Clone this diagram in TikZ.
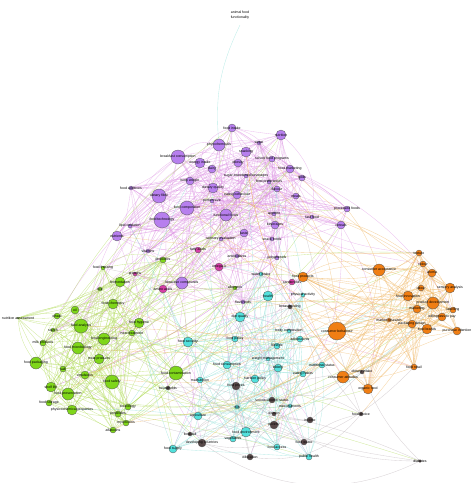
\documentclass[tikz,border=0pt]{standalone}
\usepackage{fontspec}
\setmainfont{Liberation Sans}
\pgfdeclarelayer{bg}
\pgfsetlayers{bg,main}
\definecolor{cP}{HTML}{B77FEE}
\definecolor{cM}{HTML}{D63FA7}
\definecolor{cG}{HTML}{7FD61A}
\definecolor{cC}{HTML}{52E0DC}
\definecolor{cD}{HTML}{574848}
\definecolor{cO}{HTML}{F07E14}
\definecolor{eP}{HTML}{DC92E2}
\definecolor{eM}{HTML}{E690CA}
\definecolor{eG}{HTML}{ABD84E}
\definecolor{eC}{HTML}{84DCD4}
\definecolor{eD}{HTML}{B8AEB4}
\definecolor{eO}{HTML}{EEB25C}
\tikzset{
  nd/.style={circle, draw=black!65, line width=0.3pt, inner sep=0pt},
  lbl/.style={font=\fontsize{3.5}{3.8}\selectfont, text=black, inner sep=0pt, align=center},
  edge/.style={line width=0.35pt, opacity=0.55},
}
% #1 lo, #2 hi, #3 colour, #4 steps inside cluster, #5 multiplier for cross edges
\newcommand\clusteredges[5]{%
  \foreach \ei in {#1,...,#2}{%
    \foreach \es in {#4}{%
      \pgfmathtruncatemacro\ej{#1+mod(\ei-#1+\es,#2-#1+1)}%
      \pgfmathtruncatemacro\eg{mod(\ei*17+\es*11,61)-30}%
      \draw[edge, #3] (n\ei) to[bend left=\eg] (n\ej);
    }%
    \pgfmathtruncatemacro\ek{mod(\ei*#5+5,133)+1}%
    \pgfmathtruncatemacro\eh{mod(\ei*13,51)-25}%
    \ifnum\ek=\ei\else\draw[edge, #3] (n\ei) to[bend left=\eh] (n\ek);\fi
  }%
}
\begin{document}
\begin{tikzpicture}[x=1pt,y=-1pt]
\useasboundingbox (0,0) rectangle (474,483);
\foreach \i/\x/\y/\r/\c/\t in {
1/232/128/4/cP/food intake,
2/281/135/5/cP/nutrition,
3/219/145/6/cP/phytochemicals,
4/178/157/7/cP/breakfast consumption,
5/200/163/5/cP/energy intake,
6/246/152/5/cP/snacking,
7/259/143/2/cP/sugar,
8/238/163/4/cP/obesity,
9/212/169/4/cP/dairy,
10/272/159/3/cP/school food programs,
11/290/169/4/cP/food marketing,
12/302/178/3/cP/lipids,
13/190/181/4/cP/body weight,
14/213/188/5/cP/dietary quality,
15/246/176/2/cP/sugar-sweetened beverages,
16/269/182/2/cP/food preferences,
17/277/189/3/cP/flavour,
18/237/195/4/cP/eating behaviour,
19/212/201/2/cP/portion size,
20/296/196/3/cP/meals,
21/159/196/7/cP/dietary fibre,
22/187/208/7/cP/food composition,
23/226/215/6/cP/functional foods,
24/162/220/8/cP/food technology,
25/275/225/4/cP/beverages,
26/274/214/2/cP/appetite,
27/244/233/4/cP/taste,
28/221/239/2/cP/sensory evaluation,
29/272/239/2/cP/snack foods,
30/347/209/3/cP/processed foods,
31/341/225/4/cP/cereals,
32/312/217/2/cP/fast food,
33/117/236/5/cP/nutrients,
34/148/251/2/cP/vitamins,
35/131/188/2/cP/food additives,
36/182/283/6/cP/bioactive compounds,
37/237/256/2/cP/antioxidants,
38/277/258/2/cP/polyphenols,
39/243/302/2/cP/flavonoids,
40/130/226/2/cP/lipid oxidation,
41/135/274/2/cM/proteins,
42/163/289/4/cM/amino acids,
43/198/250/3/cM/fatty acids,
44/219/267/4/cM/omega-3,
45/292/282/3/cM/carotenoids,
46/163/260/3/cG/probiotics,
47/103/268/2/cG/food freezing,
48/120/282/5/cG/fermentation,
49/100/289/2/cG/rice,
50/113/304/5/cG/food chemistry,
51/75/310/4/cG/oil,
52/57/316/3/cG/wheat,
53/81/326/7/cG/food analysis,
54/53/330/2/cG/starch,
55/43/343/3/cG/milk products,
56/104/339/6/cG/food engineering,
57/78/348/6/cG/food microbiology,
58/36/363/6/cG/food packaging,
59/99/359/5/cG/meat products,
60/63/369/3/cG/salt,
61/85/375/4/cG/emulsions,
62/112/382/7/cG/food safety,
63/51/387/5/cG/shelf life,
64/68/394/6/cG/food preservation,
65/49/403/3/cG/food storage,
66/72/410/5/cG/physicochemical properties,
67/139/323/5/cG/food hygiene,
68/132/333/3/cG/heat treatment,
69/176/373/7/cG/food contamination,
70/128/407/3/cG/toxicology,
71/118/414/3/cG/pesticides,
72/126/423/3/cG/mycotoxins,
73/113/430/3/cG/aflatoxins,
74/235/288/2/cG/allergens,
75/18/318/1/cG/nutrition assessment,
76/261/274/2/cC/water intake,
77/268/296/5/cC/health,
78/303/295/2/cC/physical activity,
79/240/317/5/cC/diet quality,
80/188/342/5/cC/food security,
81/235/339/3/cC/food policy,
82/289/331/2/cC/body composition,
83/300/339/3/cC/adolescents,
84/277/346/3/cC/lifestyle,
85/268/359/2/cC/weight management,
86/227/365/4/cC/food consumption,
87/278/368/4/cC/elderly,
88/255/379/4/cC/nutrition policy,
89/303/374/3/cC/eating habits,
90/322/365/3/cC/nutritional status,
91/200/380/3/cC/malnutrition,
92/290/406/2/cC/micronutrients,
93/237/407/2/cC/iron,
94/198/416/4/cC/agriculture,
95/246/432/5/cC/food environment,
96/233/439/3/cC/vegetables,
97/277/447/3/cC/food access,
98/173/449/4/cC/food supply,
99/309/457/3/cC/public health,
100/290/307/2/cD/breastfeeding,
101/236/386/4/cD/food prices,
102/168/388/2/cD/households,
103/272/400/3/cD/socioeconomic status,
104/274/414/2/cD/women,
105/274/425/4/cD/poverty,
106/310/420/3/cD/income,
107/304/442/3/cD/food waste,
108/202/443/4/cD/developing countries,
109/190/434/2/cD/food aid,
110/250/457/3/cD/education,
111/362/372/2/cD/dietary intake,
112/361/414/2/cD/food choice,
113/420/461/1.5/cD/diabetes,
114/303/277/5/cO/food products,
115/379/270/6/cO/consumer acceptance,
116/419/253/3/cO/texture,
117/423/264/3/cO/colour,
118/432/273/4/cO/aroma,
119/421/288/3/cO/odour,
120/450/288/5/cO/sensory analysis,
121/408/296/5/cO/food innovation,
122/433/303/6/cO/product development,
123/417/309/4/cO/marketing,
124/453/310/3/cO/labelling,
125/389/320/2/cO/market research,
126/412/324/4/cO/packaging design,
127/442/317/4/cO/willingness to pay,
128/427/329/5/cO/food brands,
129/457/331/4/cO/purchase intention,
130/337/331/9/cO/consumer behaviour,
131/414/367/3/cO/food retail,
132/343/377/6/cO/consumer attitudes,
133/368/389/5/cO/organic food}{
  \pgfmathsetmacro\dd{2*\r}
  \node[nd, fill=\c, minimum size=\dd pt] (n\i) at (\x,\y) {};
  \node[lbl] (t\i) at (\x,\y) {\t};
}
\node[lbl] (top) at (240,15) {animal food\\[2pt]functionality};
\coordinate (topend) at (240,25);
\begin{pgfonlayer}{bg}
\draw[edge, eC] (topend) to[bend right=15] (n3);
\clusteredges{1}{40}{eP}{1,4,9,15,22}{47}
\clusteredges{1}{40}{eP}{30}{89}
\clusteredges{41}{45}{eM}{1,2}{29}
\clusteredges{46}{75}{eG}{1,3,8,13}{41}
\clusteredges{46}{75}{eG}{19}{71}
\clusteredges{76}{99}{eC}{1,4,9,14}{53}
\clusteredges{100}{113}{eD}{2,5}{31}
\clusteredges{114}{133}{eO}{1,3,6,10,15}{43}
\clusteredges{114}{133}{eO}{8}{61}
\end{pgfonlayer}
\end{tikzpicture}
\end{document}
